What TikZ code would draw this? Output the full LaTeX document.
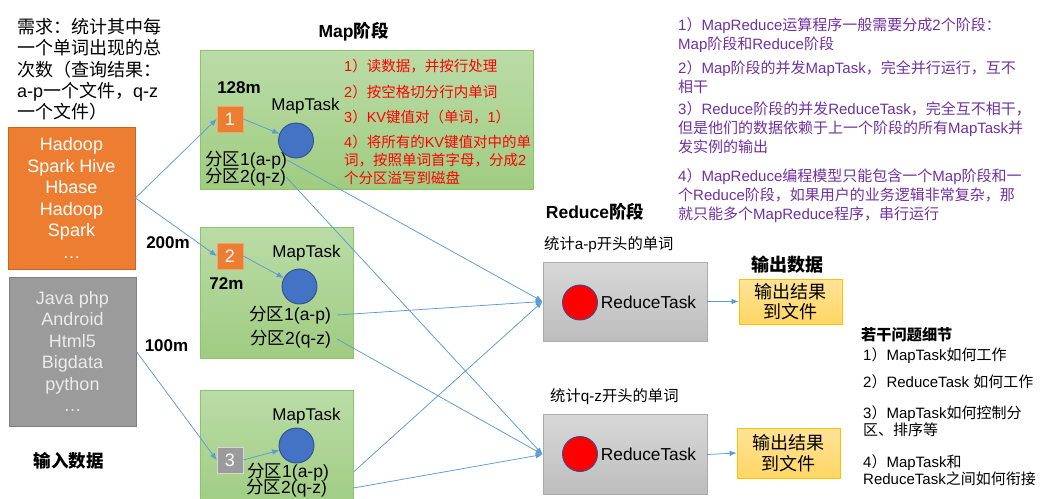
\documentclass[tikz,border=0pt]{standalone}
\usepackage{fontspec}
\setmainfont{Liberation Sans}
\newfontfamily\cjk{Noto Sans CJK SC}
\usetikzlibrary{arrows.meta}
\definecolor{FlowBlue}{HTML}{5B9BD5}
\definecolor{SrcOrange}{HTML}{ED7D31}
\definecolor{SrcOrangeEdge}{HTML}{C9651E}
\definecolor{SrcGray}{HTML}{9B9B9B}
\definecolor{SrcGrayEdge}{HTML}{7F7F7F}
\definecolor{MapTop}{HTML}{BADCA7}
\definecolor{MapBot}{HTML}{A0CC81}
\definecolor{MapEdge}{HTML}{8CC46C}
\definecolor{TaskBlue}{HTML}{4472C4}
\definecolor{TaskEdge}{HTML}{2F528F}
\definecolor{RedTop}{HTML}{D8D8D8}
\definecolor{RedBot}{HTML}{BDBDBD}
\definecolor{RedEdge}{HTML}{ABABAB}
\definecolor{OutTop}{HTML}{FFE398}
\definecolor{OutBot}{HTML}{FFD664}
\definecolor{OutEdge}{HTML}{FFC000}
\definecolor{NotePurple}{HTML}{7030A0}
\newcommand{\zh}[1]{{\cjk #1}}
\newcommand{\fs}[2]{\fontsize{#1}{#2}\selectfont}

\begin{document}
\begin{tikzpicture}[x=1pt,y=-1pt,>={Latex[length=7pt,width=5.5pt]},
    txt/.style={inner sep=0pt,align=left},
    head/.style={inner sep=0pt,font=\fs{17.5}{20}\bfseries},
    srcbox/.style={line width=0.8pt,minimum width=127pt,align=center,font=\fs{18}{21.5}},
    mapbox/.style={draw=MapEdge,line width=0.8pt,top color=MapTop,bottom color=MapBot},
    splitbox/.style={minimum size=26pt,inner sep=0pt,text=white,font=\fs{18}{20},line width=0.6pt},
    task/.style={circle,minimum size=35pt,inner sep=0pt,line width=0.9pt,draw=TaskEdge},
    part/.style={inner sep=0pt,anchor=west,font=\fs{17.5}{20}},
    redbox/.style={draw=RedEdge,line width=0.8pt,top color=RedTop,bottom color=RedBot,minimum width=164pt},
    outbox/.style={draw=OutEdge,line width=0.8pt,top color=OutTop,bottom color=OutBot,minimum width=103pt,align=center,font=\fs{18}{20.5}},
    flow/.style={->,draw=FlowBlue,fill=FlowBlue,line width=0.7pt}]
  \useasboundingbox (0,0) rectangle (1056,498);

  \node[txt,anchor=north west,font=\fs{18}{21.3}] (need) at (17,18) {\zh{需求：统计其中每}\\\zh{一个单词出现的总}\\\zh{次数（查询结果：}\\a-p\zh{一个文件，}q-z\\\zh{一个文件）}};
  \node[srcbox,fill=SrcOrange,draw=SrcOrangeEdge,minimum height=142pt,text=white] (src1) at (71.5,198) {Hadoop\\Spark Hive\\Hbase\\Hadoop\\Spark\\…};
  \node[srcbox,fill=SrcGray,draw=SrcGrayEdge,minimum height=149pt,text=white!92!black] (src2) at (72.5,351.5) {Java php\\Android\\Html5\\Bigdata\\python\\…};
  \node[head] (inhead) at (68.5,461) {\zh{输入数据}};

  \node[head] (maphead) at (353.5,32) {Map\zh{阶段}};
  \node[mapbox,minimum width=333pt,minimum height=139pt] (map1) at (366.5,119.5) {};
  \node[mapbox,minimum width=153pt,minimum height=131pt] (map2) at (276.5,292.5) {};
  \node[mapbox,minimum width=153pt,minimum height=120pt] (map3) at (276.5,450) {};

  \node[head,font=\fs{17}{20}\bfseries] (s128) at (239,88) {128m};
  \node[head,font=\fs{17}{20}\bfseries] (s200) at (168,243) {200m};
  \node[head,font=\fs{17}{20}\bfseries] (s72) at (226.5,284) {72m};
  \node[head,font=\fs{17}{20}\bfseries] (s100) at (166.5,346) {100m};

  \node[splitbox,draw=SrcOrange!70!white,fill=SrcOrange] (sq1) at (230,119) {1};
  \node[splitbox,draw=SrcOrange!70!white,fill=SrcOrange] (sq2) at (230,256) {2};
  \node[splitbox,draw=white!60!SrcGray,fill=SrcGray] (sq3) at (230,460) {3};

  \node[inner sep=0pt,font=\fs{17}{20}] (mtl1) at (305.5,106) {MapTask};
  \node[inner sep=0pt,font=\fs{17}{20}] (mtl2) at (306.5,253) {MapTask};
  \node[inner sep=0pt,font=\fs{17}{20}] (mtl3) at (306.5,416) {MapTask};
  \node[task,fill=TaskBlue] (mt1) at (296,140.5) {};
  \node[task,fill=TaskBlue] (mt2) at (299.5,286.5) {};
  \node[task,fill=TaskBlue] (mt3) at (296.5,445.5) {};

  \node[part] (p11) at (205,160) {\zh{分区}1(a-p)};
  \node[part] (p12) at (205,177) {\zh{分区}2(q-z)};
  \node[part] (p21) at (249,315) {\zh{分区}1(a-p)};
  \node[part] (p22) at (250,339) {\zh{分区}2(q-z)};
  \node[part] (p31) at (247,472) {\zh{分区}1(a-p)};
  \node[part] (p32) at (246,488) {\zh{分区}2(q-z)};

  \begin{scope}[red,font=\fs{14.5}{18}]
    \node[txt,anchor=west] (r1) at (344,66) {1\zh{）读数据，并按行处理}};
    \node[txt,anchor=west] (r2) at (344,92) {2\zh{）按空格切分行内单词}};
    \node[txt,anchor=west] (r3) at (344,117) {3\zh{）}KV\zh{键值对（单词，}1\zh{）}};
    \node[txt,anchor=north west] (r4) at (344,134.5) {4\zh{）将所有的}KV\zh{键值对中的单}\\\zh{词，按照单词首字母，分成}2\\\zh{个分区溢写到磁盘}};
  \end{scope}

  \node[head] (redhead) at (595,212) {Reduce\zh{阶段}};
  \node[txt,anchor=west,font=\fs{15.3}{18}] (ap) at (544,245) {\zh{统计}a-p\zh{开头的单词}};
  \node[txt,anchor=west,font=\fs{15.3}{18}] (qz) at (550,397) {\zh{统计}q-z\zh{开头的单词}};
  \node[redbox,minimum height=79pt] (rb1) at (625,301.5) {};
  \node[redbox,minimum height=80pt] (rb2) at (625,454.5) {};
  \node[task,fill=red] (rc1) at (580,302.5) {};
  \node[task,fill=red] (rc2) at (580,454) {};
  \node[inner sep=0pt,font=\fs{17.3}{20}] (rt1) at (648.5,302) {ReduceTask};
  \node[inner sep=0pt,font=\fs{17.3}{20}] (rt2) at (648.5,454) {ReduceTask};

  \node[head,font=\fs{18}{20}\bfseries] (outhead) at (787.5,265) {\zh{输出数据}};
  \node[outbox,minimum height=45pt] (ob1) at (790.5,301.5) {\zh{输出结果}\\\zh{到文件}};
  \node[outbox,minimum height=50pt] (ob2) at (788.5,453) {\zh{输出结果}\\\zh{到文件}};

  \begin{scope}[NotePurple,font=\fs{15}{19.3}]
    \node[txt,anchor=north west] (g1) at (678,17.2) {1\zh{）}MapReduce\zh{运算程序一般需要分成}2\zh{个阶段：}\\Map\zh{阶段和}Reduce\zh{阶段}};
    \node[txt,anchor=north west] (g2) at (678,60.2) {2\zh{）}Map\zh{阶段的并发}MapTask\zh{，完全并行运行，互不}\\\zh{相干}};
    \node[txt,anchor=north west] (g3) at (678,101.2) {3\zh{）}Reduce\zh{阶段的并发}ReduceTask\zh{，完全互不相干，}\\\zh{但是他们的数据依赖于上一个阶段的所有}MapTask\zh{并}\\\zh{发实例的输出}};
    \node[txt,anchor=north west] (g4) at (678,168.2) {4\zh{）}MapReduce\zh{编程模型只能包含一个}Map\zh{阶段和一}\\\zh{个}Reduce\zh{阶段，如果用户的业务逻辑非常复杂，那}\\\zh{就只能多个}MapReduce\zh{程序，串行运行}};
  \end{scope}

  \node[head,anchor=west,font=\fs{15.2}{18}\bfseries] (qhead) at (861,335) {\zh{若干问题细节}};
  \begin{scope}[font=\fs{15}{17}]
    \node[txt,anchor=west] (n1) at (863,356) {1\zh{）}MapTask\zh{如何工作}};
    \node[txt,anchor=west] (n2) at (863,382) {2\zh{）}ReduceTask \zh{如何工作}};
    \node[txt,anchor=north west] (n3) at (863,405.2) {3\zh{）}MapTask\zh{如何控制分}\\\zh{区、排序等}};
    \node[txt,anchor=north west] (n4) at (863,454.2) {4\zh{）}MapTask\zh{和}\\ReduceTask\zh{之间如何衔接}};
  \end{scope}

  \draw[flow] (src1.east) -- (sq1.west);
  \draw[flow] (src1.east) -- (sq2.west);
  \draw[flow] (src2.east) -- (sq3.west);
  \draw[flow] (sq1.east) -- (mt1);
  \draw[flow] (sq2.east) -- (mt2);
  \draw[flow] (sq3.east) -- (mt3);
  \draw[flow] (p11.east) -- (rb1.west);
  \draw[flow] (p12.east) -- (rb2.west);
  \draw[flow] ([xshift=6pt]p21.east) -- (rb1.west);
  \draw[flow] ([xshift=6pt]p22.east) -- (rb2.west);
  \draw[flow] (p31.east -| map3.east) -- (rb1.west);
  \draw[flow] (p32.east -| map3.east) -- (rb2.west);
  \draw[flow] (rb1.east) -- (ob1.west);
  \draw[flow] (rb2.east) -- (ob2.west);
\end{tikzpicture}
\end{document}
